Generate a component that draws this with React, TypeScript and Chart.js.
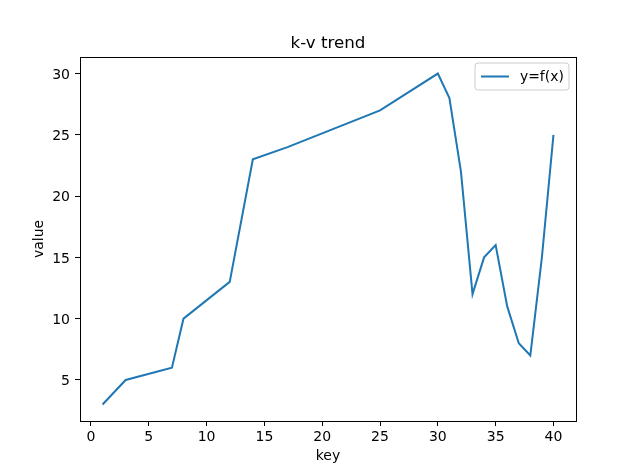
import React, { useEffect, useRef } from "react";
import { Chart, registerables } from "chart.js";

Chart.register(...registerables);

const keys = [1, 3, 7, 8, 12, 14, 17, 25, 30, 31, 32, 33, 34, 35, 36, 37, 38, 39, 40];
const values = [3, 5, 6, 10, 13, 23, 24, 27, 30, 28, 22, 12, 15, 16, 11, 8, 7, 15, 25];
const xTicks = [0, 5, 10, 15, 20, 25, 30, 35, 40];
const yTicks = [5, 10, 15, 20, 25, 30];
const titleText = "k-v trend";
const seriesLabel = "y=f(x)";
const xLabel = "key";
const yLabel = "value";

const FONT = "'DejaVu Sans', sans-serif";
const BLUE = "#1f77b4";

export default function App() {
  const ref = useRef<HTMLCanvasElement | null>(null);

  useEffect(() => {
    document.body.style.margin = "0";
    const canvas = ref.current;
    if (!canvas) return;

    const decor = {
      id: "decor",
      afterDraw(chart: any) {
        const { ctx, chartArea } = chart;
        const { left, top, right, bottom } = chartArea;
        ctx.save();
        // frame
        ctx.strokeStyle = "#000";
        ctx.lineWidth = 1;
        ctx.strokeRect(Math.round(left) + 0.5, Math.round(top) + 0.5, Math.round(right - left), Math.round(bottom - top));
        // title
        ctx.fillStyle = "#000";
        ctx.font = `16.7px ${FONT}`;
        ctx.textAlign = "center";
        ctx.textBaseline = "alphabetic";
        ctx.fillText(titleText, (left + right) / 2, top - 9);
        // legend
        const ds = chart.data.datasets[0];
        const bw = 94, bh = 27;
        const bx = right - 7 - bw, by = top + 6;
        const r = 3;
        ctx.beginPath();
        ctx.moveTo(bx + r, by);
        ctx.lineTo(bx + bw - r, by);
        ctx.quadraticCurveTo(bx + bw, by, bx + bw, by + r);
        ctx.lineTo(bx + bw, by + bh - r);
        ctx.quadraticCurveTo(bx + bw, by + bh, bx + bw - r, by + bh);
        ctx.lineTo(bx + r, by + bh);
        ctx.quadraticCurveTo(bx, by + bh, bx, by + bh - r);
        ctx.lineTo(bx, by + r);
        ctx.quadraticCurveTo(bx, by, bx + r, by);
        ctx.closePath();
        ctx.fillStyle = "rgba(255,255,255,0.8)";
        ctx.fill();
        ctx.strokeStyle = "#cccccc";
        ctx.lineWidth = 1;
        ctx.stroke();
        const ly = by + bh / 2;
        ctx.beginPath();
        ctx.moveTo(bx + 6, ly);
        ctx.lineTo(bx + 34, ly);
        ctx.strokeStyle = ds.borderColor;
        ctx.lineWidth = 2;
        ctx.stroke();
        ctx.fillStyle = "#000";
        ctx.font = `13.9px ${FONT}`;
        ctx.textAlign = "left";
        ctx.textBaseline = "middle";
        ctx.fillText(ds.label, bx + 45, ly + 1);
        ctx.restore();
      },
    };

    const chart = new Chart(canvas, {
      type: "line",
      data: {
        datasets: [
          {
            label: seriesLabel,
            data: keys.map((k, i) => ({ x: k, y: values[i] })),
            borderColor: BLUE,
            backgroundColor: BLUE,
            borderWidth: 2,
            pointRadius: 0,
            tension: 0,
            fill: false,
          },
        ],
      },
      options: {
        responsive: false,
        animation: false,
        layout: { padding: { top: 57, right: 64, left: 0, bottom: 0 } },
        plugins: {
          legend: { display: false },
          title: { display: false },
          tooltip: { enabled: false },
        },
        scales: {
          x: {
            type: "linear",
            min: -0.95,
            max: 41.95,
            afterBuildTicks: (s: any) => {
              s.ticks = xTicks.map((v) => ({ value: v }));
            },
            afterFit: (s: any) => {
              s.height = 52;
            },
            grid: { drawOnChartArea: false, color: "#000", tickLength: 5, lineWidth: 1 },
            border: { display: true, color: "#000", width: 1 },
            ticks: {
              color: "#000",
              font: { family: FONT, size: 14 },
              padding: 3,
              maxRotation: 0,
              autoSkip: false,
            },
            title: {
              display: true,
              text: xLabel,
              color: "#000",
              font: { family: FONT, size: 14 },
              padding: { top: 0, bottom: 8 },
            },
          },
          y: {
            type: "linear",
            min: 1.65,
            max: 31.35,
            afterBuildTicks: (s: any) => {
              s.ticks = yTicks.map((v) => ({ value: v }));
            },
            afterFit: (s: any) => {
              s.width = 80;
            },
            grid: { drawOnChartArea: false, color: "#000", tickLength: 5, lineWidth: 1 },
            border: { display: true, color: "#000", width: 1 },
            ticks: {
              color: "#000",
              font: { family: FONT, size: 14 },
              padding: 5,
              labelOffset: 1.5,
              autoSkip: false,
            },
            title: {
              display: true,
              text: yLabel,
              color: "#000",
              font: { family: FONT, size: 14 },
              padding: { top: 31, bottom: 0 },
            },
          },
        },
      },
      plugins: [decor],
    } as any);

    return () => chart.destroy();
  }, []);

  return (
    <div style={{ width: 640, height: 473 }}>
      <canvas ref={ref} width={640} height={473} style={{ display: "block", width: 640, height: 473 }} />
    </div>
  );
}
